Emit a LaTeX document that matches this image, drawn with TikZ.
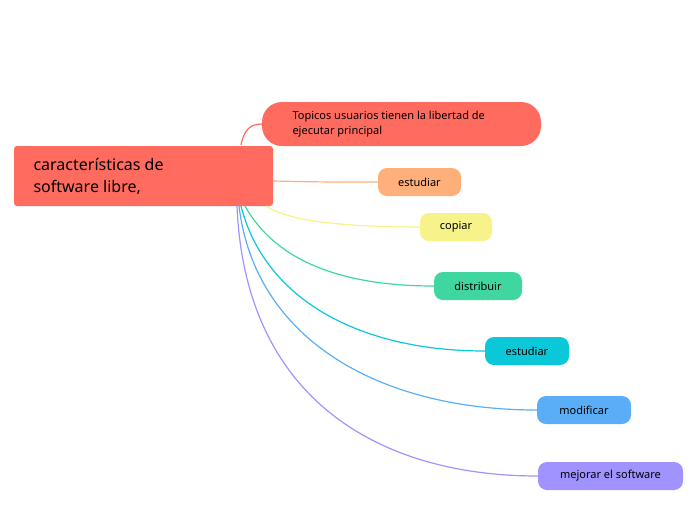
\documentclass[tikz,border=0pt]{standalone}
\usepackage{fontspec}
\setmainfont{Noto Sans}
\begin{document}
\begin{tikzpicture}[x=1pt,y=-1pt,
  leaf/.style={rounded corners=9pt,inner sep=0pt,font=\fontsize{11}{13}\selectfont},
  link/.style={line width=1.2pt}]
\useasboundingbox (0,0) rectangle (696,520);
\definecolor{cred}{HTML}{FF6B5F}
\definecolor{corange}{HTML}{FFB07A}
\definecolor{cyellow}{HTML}{F8F28A}
\definecolor{cgreen}{HTML}{3FD69F}
\definecolor{ccyan}{HTML}{0AC8D8}
\definecolor{cblue}{HTML}{5AAEF7}
\definecolor{cpurple}{HTML}{A093FF}
% connectors first
\coordinate (s0) at (241,145);
\coordinate (s1) at (273,181);
\coordinate (s2) at (266,206);
\coordinate (s3) at (245,206);
\coordinate (s4) at (241,206);
\coordinate (s5) at (239,206);
\coordinate (s6) at (237,206);
\node[fill=cred,rounded corners=3pt,minimum width=259pt,minimum height=60pt] (main) at (143.5,176) {};
\node[anchor=west,align=left,font=\fontsize{16}{22}\selectfont\bfseries] (mt) at (30,176) {características de\\software libre,};
\node[fill=cred,rounded corners=20pt,minimum width=279pt,minimum height=44pt] (t) at (401.5,124) {};
\node[anchor=west,align=left,font=\fontsize{11}{15}\selectfont] (tt) at (289,124.5) {Topicos usuarios tienen la libertad de\\ejecutar principal};
\node[leaf,fill=corange,minimum width=83pt,minimum height=28pt] (a) at (419.5,182) {estudiar};
\node[leaf,fill=cyellow,minimum width=72pt,minimum height=28pt] (b) at (456,227) {copiar};
\node[leaf,fill=cgreen,minimum width=88pt,minimum height=28pt] (c) at (478,286) {distribuir};
\node[leaf,fill=ccyan,minimum width=84pt,minimum height=28pt] (d) at (527,351) {estudiar};
\node[leaf,fill=cblue,minimum width=94pt,minimum height=28pt] (e) at (584,410) {modificar};
\node[leaf,fill=cpurple,minimum width=145pt,minimum height=28pt] (f) at (610.5,476) {mejorar el software};
\begin{scope}[on background layer/.style={}]
\draw[link,cred] (s0) .. controls (244,130) and (250,124) .. (t.west);
\draw[link,corange] (s1) .. controls (320,182) .. (a.west);
\draw[link,cyellow] (s2) .. controls (290,222) and (350,227) .. (b.west);
\draw[link,cgreen] (s3) .. controls (275,260) and (340,286) .. (c.west);
\draw[link,ccyan] (s4) .. controls (265,300) and (360,351) .. (d.west);
\draw[link,cblue] (s5) .. controls (255,340) and (380,410) .. (e.west);
\draw[link,cpurple] (s6) .. controls (245,400) and (380,476) .. (f.west);
\end{scope}
\end{tikzpicture}
\end{document}
